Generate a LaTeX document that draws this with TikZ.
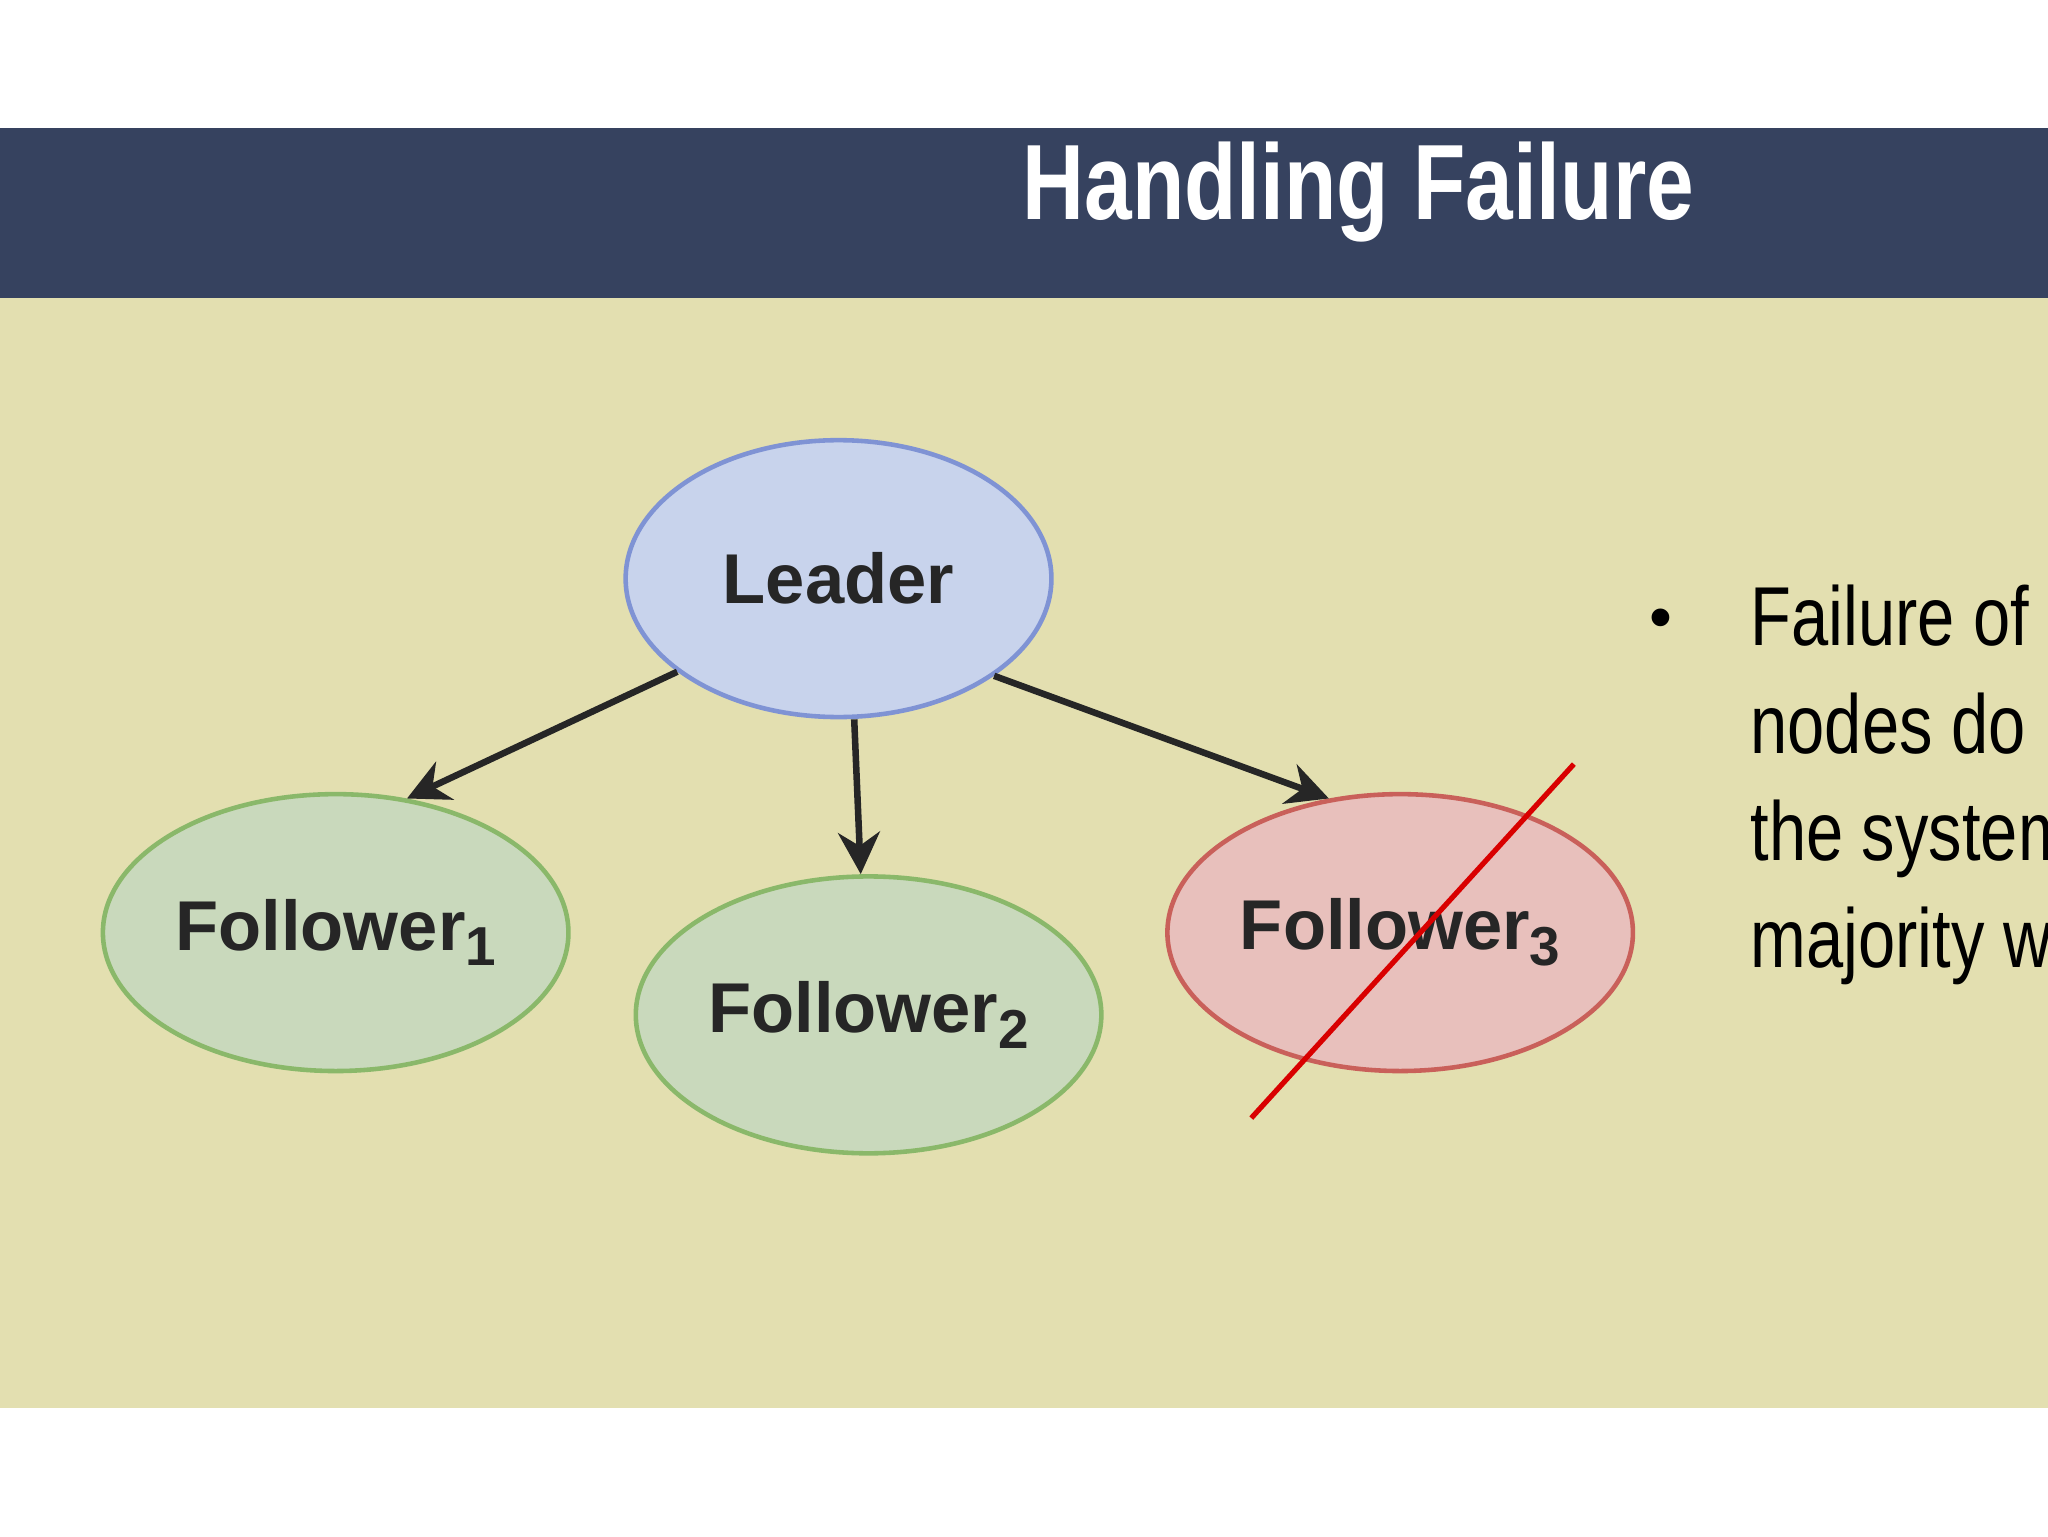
\documentclass[tikz,border=0pt]{standalone}
\usepackage{fontspec}
\setmainfont{Liberation Sans}
\newfontfamily\narrowf[FakeStretch=0.8]{Liberation Sans}
\usetikzlibrary{shapes.geometric,arrows.meta}
\definecolor{band}{HTML}{36425F}
\definecolor{panel}{HTML}{E3DFB0}
\definecolor{lfill}{HTML}{C8D3EC}\definecolor{ldraw}{HTML}{7F93D4}
\definecolor{ffill}{HTML}{C9D9BC}\definecolor{fdraw}{HTML}{8AB86A}
\definecolor{xfill}{HTML}{E8C0BC}\definecolor{xdraw}{HTML}{C9605A}
\tikzset{
  ell/.style={ellipse, minimum width=326pt, minimum height=212pt, line width=3.5pt, font=\fontsize{54}{60}\selectfont\bfseries, text=black!85},
  arr/.style={line width=5pt, -{Stealth[length=32pt,width=32pt]}, black!85},
}
\newcommand{\mysub}[1]{\raisebox{-12pt}{\fontsize{42}{42}\selectfont\bfseries #1}}
\begin{document}
\begin{tikzpicture}[x=1pt,y=-1pt]
\useasboundingbox (0,0) rectangle (1568,1176);
\clip (0,0) rectangle (1568,1176);
\fill[white] (0,0) rectangle (1568,1176);
\fill[panel] (0,228) rectangle (1568,1078);
\fill[band] (0,98) rectangle (1568,228);
\node[text=white, font=\narrowf\fontsize{82}{90}\selectfont\bfseries] (title) at (1040,147) {Handling Failure};
\node[ell, fill=lfill, draw=ldraw] (L) at (642,443) {Leader};
\node[ell, fill=ffill, draw=fdraw] (F1) at (257,714) {Follower\mysub{1}};
\node[ell, fill=ffill, draw=fdraw] (F2) at (665,777) {Follower\mysub{2}};
\node[ell, fill=xfill, draw=xdraw] (F3) at (1072,714) {Follower\mysub{3}};
\coordinate (xa) at (958,856); \coordinate (xb) at (1205,585);
\draw[red!85!black, line width=4pt] (xa) -- (xb);
\draw[arr] (L.210) -- (F1.62);
\draw[arr] ([xshift=12pt]L.south) -- ([xshift=-6pt]F2.north);
\draw[arr] (L.328) -- (F3.118);
\node[font=\fontsize{50}{60}\selectfont] (b) at (1272,478) {\textbullet};
\node[anchor=north west, align=left, inner sep=0pt, font=\narrowf\fontsize{64}{82}\selectfont] (txt) at (1340,448) {Failure of\\nodes do\\the system\\majority w};
\end{tikzpicture}
\end{document}
